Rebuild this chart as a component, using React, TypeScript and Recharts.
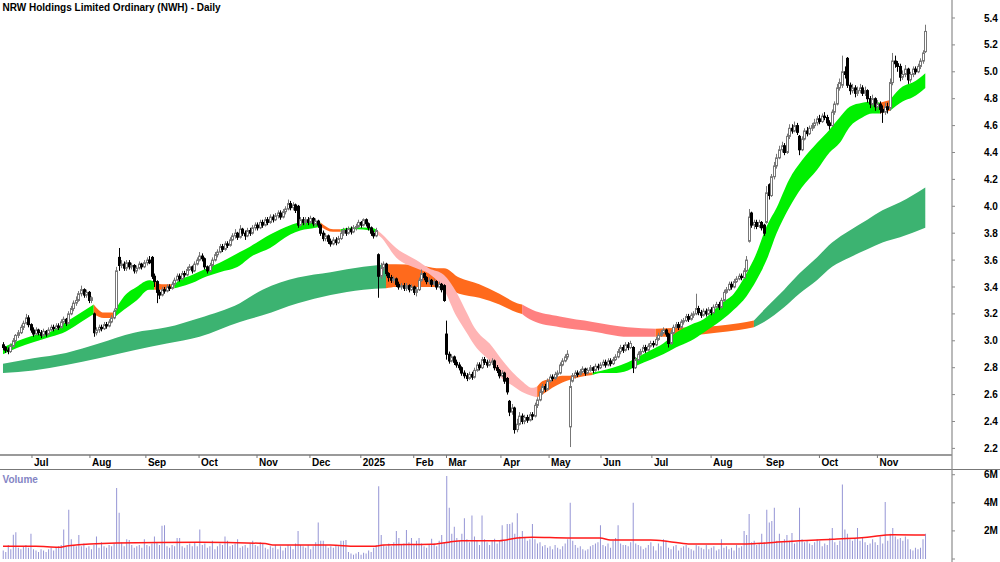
import { Area, Bar, ComposedChart, Line, XAxis, YAxis } from "recharts";

const FONT = '"Liberation Sans", Arial, Helvetica, sans-serif';

// daily candles, Jun 2024 .. Nov 2025
const opens = [
  2.97, 2.95, 2.93, 2.92, 2.96, 3.0, 3.04, 3.06, 3.1, 3.13,
  3.17, 3.12, 3.08, 3.05, 3.08, 3.06, 3.04, 3.07, 3.05, 3.08,
  3.1, 3.09, 3.11, 3.1, 3.14, 3.16, 3.13, 3.2, 3.24, 3.28,
  3.3, 3.35, 3.38, 3.34, 3.36, 3.3, 3.2, 3.06, 3.08, 3.1,
  3.09, 3.12, 3.11, 3.14, 3.17, 3.24, 3.62, 3.56, 3.57, 3.54,
  3.58, 3.55, 3.56, 3.52, 3.54, 3.57, 3.55, 3.58, 3.6, 3.62,
  3.48, 3.44, 3.36, 3.34, 3.38, 3.37, 3.4, 3.39, 3.42, 3.45,
  3.48, 3.46, 3.5, 3.49, 3.53, 3.55, 3.52, 3.57, 3.6, 3.63,
  3.61, 3.55, 3.52, 3.56, 3.6, 3.64, 3.66, 3.7, 3.68, 3.72,
  3.71, 3.75, 3.78, 3.8, 3.77, 3.83, 3.8, 3.78, 3.82, 3.8,
  3.84, 3.86, 3.84, 3.88, 3.86, 3.9, 3.88, 3.92, 3.9, 3.93,
  3.95, 3.92, 3.96, 3.98, 4.02, 3.99, 4.01, 4.0, 3.86, 3.9,
  3.88, 3.9, 3.88, 3.91, 3.87, 3.89, 3.86, 3.8, 3.76, 3.78,
  3.74, 3.72, 3.75, 3.73, 3.76, 3.8, 3.82, 3.8, 3.83, 3.81,
  3.84, 3.85, 3.88, 3.86, 3.9, 3.87, 3.84, 3.8, 3.78, 3.64,
  3.48, 3.54, 3.57, 3.5, 3.47, 3.45, 3.46, 3.42, 3.4, 3.41,
  3.39, 3.41, 3.38, 3.4, 3.36, 3.38, 3.45, 3.5, 3.47, 3.44,
  3.45, 3.42, 3.44, 3.4, 3.42, 3.41, 3.05, 2.9, 2.85, 2.88,
  2.84, 2.82, 2.8, 2.76, 2.74, 2.72, 2.75, 2.73, 2.78, 2.82,
  2.8, 2.86, 2.84, 2.82, 2.84, 2.85, 2.8, 2.78, 2.74, 2.76,
  2.72, 2.55, 2.47, 2.5, 2.34, 2.38, 2.44, 2.4, 2.43, 2.41,
  2.45, 2.44, 2.52, 2.56, 2.62, 2.66, 2.64, 2.7, 2.73, 2.72,
  2.75, 2.76, 2.82, 2.85, 2.88, 2.36, 2.7, 2.74, 2.76, 2.75,
  2.77, 2.79, 2.76, 2.78, 2.8, 2.78, 2.81, 2.8, 2.82, 2.84,
  2.82, 2.85, 2.83, 2.86, 2.88, 2.92, 2.95, 2.93, 2.97, 2.95,
  2.95, 2.8, 2.86, 2.9, 2.92, 2.95, 2.93, 2.96, 2.98, 2.97,
  3.01, 3.04, 3.06, 3.08, 3.05, 2.98, 3.06, 3.1, 3.12, 3.1,
  3.14, 3.15, 3.18, 3.16, 3.19, 3.2, 3.24, 3.21, 3.19, 3.22,
  3.2, 3.23, 3.21, 3.25, 3.27, 3.25, 3.3, 3.36, 3.38, 3.42,
  3.4, 3.44, 3.46, 3.48, 3.47, 3.52, 3.74, 3.95, 3.86, 3.88,
  3.85, 3.88, 3.86, 3.88, 4.16, 4.08, 4.22, 4.3, 4.36, 4.42,
  4.45, 4.4, 4.52, 4.58, 4.56, 4.6, 4.52, 4.42, 4.5, 4.56,
  4.54, 4.58, 4.6, 4.62, 4.65, 4.63, 4.67, 4.66, 4.62, 4.6,
  4.7, 4.76, 4.88, 4.9, 5.0, 5.1, 4.9, 4.86, 4.88, 4.84,
  4.86, 4.88, 4.84, 4.86, 4.8, 4.76, 4.8, 4.74, 4.76, 4.72,
  4.7, 4.74, 4.73, 4.92, 5.08, 5.06, 5.04, 4.96, 4.98, 5.02,
  4.94, 4.98, 5.02, 5.0, 5.04, 5.08, 5.15,
];

const highs = [
  2.99, 2.96, 2.95, 2.98, 3.02, 3.05, 3.08, 3.12, 3.15, 3.2,
  3.19, 3.13, 3.1, 3.1, 3.09, 3.08, 3.09, 3.08, 3.1, 3.12,
  3.12, 3.13, 3.13, 3.16, 3.18, 3.17, 3.22, 3.26, 3.3, 3.33,
  3.37, 3.41, 3.39, 3.38, 3.37, 3.33, 3.21, 3.1, 3.12, 3.12,
  3.14, 3.14, 3.16, 3.19, 3.24, 3.55, 3.69, 3.6, 3.59, 3.6,
  3.6, 3.58, 3.57, 3.56, 3.59, 3.58, 3.6, 3.62, 3.63, 3.63,
  3.5, 3.45, 3.38, 3.4, 3.4, 3.42, 3.42, 3.44, 3.47, 3.5,
  3.5, 3.52, 3.52, 3.55, 3.57, 3.56, 3.59, 3.62, 3.66, 3.65,
  3.62, 3.56, 3.58, 3.62, 3.66, 3.68, 3.72, 3.72, 3.74, 3.74,
  3.77, 3.8, 3.83, 3.81, 3.86, 3.84, 3.82, 3.84, 3.84, 3.86,
  3.88, 3.88, 3.9, 3.9, 3.92, 3.92, 3.94, 3.94, 3.95, 3.97,
  3.97, 3.98, 4.0, 4.05, 4.04, 4.03, 4.02, 4.01, 3.92, 3.92,
  3.92, 3.92, 3.93, 3.92, 3.91, 3.9, 3.87, 3.82, 3.8, 3.79,
  3.76, 3.77, 3.77, 3.78, 3.82, 3.84, 3.84, 3.85, 3.85, 3.86,
  3.87, 3.9, 3.89, 3.91, 3.91, 3.88, 3.85, 3.82, 3.84, 3.65,
  3.58, 3.59, 3.58, 3.51, 3.49, 3.48, 3.47, 3.44, 3.43, 3.43,
  3.43, 3.42, 3.42, 3.41, 3.4, 3.47, 3.53, 3.51, 3.48, 3.47,
  3.46, 3.46, 3.45, 3.44, 3.43, 3.42, 3.15, 2.92, 2.9, 2.89,
  2.86, 2.84, 2.81, 2.78, 2.76, 2.77, 2.77, 2.8, 2.84, 2.84,
  2.88, 2.88, 2.86, 2.86, 2.87, 2.86, 2.82, 2.79, 2.78, 2.77,
  2.73, 2.56, 2.53, 2.51, 2.42, 2.47, 2.46, 2.45, 2.45, 2.47,
  2.47, 2.54, 2.58, 2.64, 2.68, 2.68, 2.72, 2.75, 2.75, 2.77,
  2.78, 2.84, 2.87, 2.9, 2.93, 2.72, 2.76, 2.78, 2.78, 2.79,
  2.81, 2.8, 2.8, 2.82, 2.81, 2.83, 2.83, 2.84, 2.86, 2.86,
  2.87, 2.87, 2.88, 2.9, 2.94, 2.97, 2.97, 2.99, 2.99, 3.0,
  2.96, 2.88, 2.92, 2.94, 2.97, 2.97, 2.98, 3.0, 3.0, 3.03,
  3.06, 3.08, 3.1, 3.09, 3.06, 3.08, 3.12, 3.14, 3.14, 3.16,
  3.17, 3.2, 3.2, 3.21, 3.22, 3.35, 3.26, 3.23, 3.24, 3.24,
  3.25, 3.25, 3.27, 3.29, 3.29, 3.32, 3.38, 3.4, 3.44, 3.44,
  3.46, 3.48, 3.5, 3.5, 3.54, 3.63, 3.98, 3.96, 3.9, 3.9,
  3.9, 3.89, 3.87, 4.15, 4.17, 4.24, 4.33, 4.39, 4.45, 4.48,
  4.47, 4.54, 4.61, 4.61, 4.63, 4.62, 4.53, 4.52, 4.58, 4.59,
  4.6, 4.62, 4.65, 4.67, 4.68, 4.69, 4.7, 4.68, 4.64, 4.72,
  4.78, 4.91, 4.95, 5.12, 5.04, 5.11, 4.92, 4.91, 4.9, 4.89,
  4.91, 4.9, 4.89, 4.87, 4.82, 4.83, 4.81, 4.79, 4.78, 4.75,
  4.77, 4.77, 4.95, 5.14, 5.12, 5.08, 5.06, 5.01, 5.05, 5.03,
  5.0, 5.04, 5.04, 5.06, 5.1, 5.16, 5.35,
];

const lows = [
  2.93, 2.91, 2.9, 2.91, 2.95, 2.98, 3.02, 3.05, 3.08, 3.12,
  3.1, 3.06, 3.03, 3.04, 3.04, 3.02, 3.03, 3.03, 3.04, 3.07,
  3.07, 3.08, 3.08, 3.09, 3.12, 3.11, 3.12, 3.19, 3.22, 3.26,
  3.29, 3.33, 3.32, 3.32, 3.28, 3.28, 3.03, 3.04, 3.06, 3.07,
  3.08, 3.09, 3.1, 3.13, 3.16, 3.22, 3.52, 3.54, 3.52, 3.52,
  3.53, 3.53, 3.5, 3.5, 3.53, 3.53, 3.54, 3.56, 3.57, 3.46,
  3.4, 3.28, 3.31, 3.33, 3.35, 3.36, 3.37, 3.38, 3.41, 3.44,
  3.44, 3.45, 3.47, 3.48, 3.52, 3.5, 3.51, 3.56, 3.59, 3.59,
  3.53, 3.5, 3.51, 3.55, 3.59, 3.62, 3.65, 3.66, 3.67, 3.69,
  3.7, 3.74, 3.76, 3.75, 3.76, 3.78, 3.75, 3.77, 3.78, 3.79,
  3.82, 3.82, 3.83, 3.84, 3.85, 3.86, 3.87, 3.88, 3.89, 3.91,
  3.9, 3.91, 3.94, 3.97, 3.97, 3.97, 3.95, 3.84, 3.85, 3.86,
  3.86, 3.86, 3.87, 3.85, 3.85, 3.84, 3.78, 3.74, 3.74, 3.72,
  3.7, 3.71, 3.71, 3.72, 3.75, 3.78, 3.78, 3.79, 3.79, 3.8,
  3.82, 3.84, 3.84, 3.85, 3.85, 3.82, 3.78, 3.76, 3.77, 3.32,
  3.46, 3.52, 3.48, 3.44, 3.43, 3.43, 3.4, 3.38, 3.38, 3.37,
  3.37, 3.36, 3.37, 3.34, 3.33, 3.37, 3.44, 3.45, 3.42, 3.42,
  3.4, 3.41, 3.38, 3.39, 3.36, 3.29, 2.86, 2.83, 2.84, 2.82,
  2.8, 2.78, 2.74, 2.72, 2.7, 2.71, 2.71, 2.72, 2.77, 2.78,
  2.79, 2.82, 2.8, 2.81, 2.82, 2.78, 2.76, 2.72, 2.73, 2.68,
  2.6, 2.44, 2.45, 2.31, 2.32, 2.37, 2.38, 2.38, 2.39, 2.4,
  2.41, 2.43, 2.5, 2.55, 2.6, 2.62, 2.63, 2.69, 2.7, 2.71,
  2.73, 2.75, 2.81, 2.84, 2.86, 2.21, 2.69, 2.72, 2.73, 2.74,
  2.76, 2.74, 2.75, 2.77, 2.76, 2.77, 2.78, 2.79, 2.81, 2.8,
  2.81, 2.81, 2.82, 2.85, 2.87, 2.9, 2.91, 2.92, 2.93, 2.94,
  2.76, 2.79, 2.85, 2.89, 2.91, 2.91, 2.92, 2.95, 2.95, 2.96,
  3.0, 3.03, 3.05, 3.03, 2.95, 2.97, 3.05, 3.09, 3.08, 3.09,
  3.12, 3.14, 3.14, 3.15, 3.17, 3.19, 3.19, 3.17, 3.18, 3.18,
  3.19, 3.19, 3.2, 3.24, 3.23, 3.24, 3.29, 3.35, 3.37, 3.38,
  3.39, 3.43, 3.45, 3.45, 3.46, 3.51, 3.73, 3.84, 3.83, 3.83,
  3.84, 3.82, 3.78, 3.87, 4.05, 4.07, 4.2, 4.28, 4.35, 4.4,
  4.38, 4.39, 4.5, 4.54, 4.55, 4.53, 4.38, 4.41, 4.49, 4.52,
  4.53, 4.56, 4.58, 4.6, 4.61, 4.62, 4.64, 4.6, 4.57, 4.59,
  4.68, 4.75, 4.86, 4.88, 4.95, 4.88, 4.83, 4.84, 4.81, 4.82,
  4.84, 4.82, 4.82, 4.77, 4.73, 4.74, 4.71, 4.72, 4.69, 4.62,
  4.68, 4.69, 4.71, 4.9, 5.03, 5.0, 4.93, 4.94, 4.96, 4.91,
  4.92, 4.96, 4.98, 4.99, 5.02, 5.06, 5.14,
];

const closes = [
  2.95, 2.93, 2.92, 2.96, 3.0, 3.04, 3.06, 3.1, 3.13, 3.17,
  3.12, 3.08, 3.05, 3.08, 3.06, 3.04, 3.07, 3.05, 3.08, 3.1,
  3.09, 3.11, 3.1, 3.14, 3.16, 3.13, 3.2, 3.24, 3.28, 3.3,
  3.35, 3.38, 3.34, 3.36, 3.3, 3.32, 3.06, 3.08, 3.1, 3.09,
  3.12, 3.11, 3.14, 3.17, 3.22, 3.52, 3.56, 3.57, 3.54, 3.58,
  3.55, 3.56, 3.52, 3.54, 3.57, 3.55, 3.58, 3.6, 3.58, 3.48,
  3.44, 3.36, 3.34, 3.38, 3.37, 3.4, 3.39, 3.42, 3.45, 3.48,
  3.46, 3.5, 3.49, 3.53, 3.55, 3.52, 3.57, 3.6, 3.63, 3.61,
  3.55, 3.52, 3.56, 3.6, 3.64, 3.66, 3.7, 3.68, 3.72, 3.71,
  3.75, 3.78, 3.8, 3.77, 3.83, 3.8, 3.78, 3.82, 3.8, 3.84,
  3.86, 3.84, 3.88, 3.86, 3.9, 3.88, 3.92, 3.9, 3.93, 3.95,
  3.92, 3.96, 3.98, 4.02, 3.99, 4.01, 3.97, 3.86, 3.9, 3.88,
  3.9, 3.88, 3.91, 3.87, 3.89, 3.86, 3.8, 3.76, 3.78, 3.74,
  3.72, 3.75, 3.73, 3.76, 3.8, 3.82, 3.8, 3.83, 3.81, 3.84,
  3.85, 3.88, 3.86, 3.9, 3.87, 3.84, 3.8, 3.78, 3.82, 3.48,
  3.54, 3.57, 3.5, 3.47, 3.45, 3.46, 3.42, 3.4, 3.41, 3.39,
  3.41, 3.38, 3.4, 3.36, 3.38, 3.45, 3.5, 3.47, 3.44, 3.45,
  3.42, 3.44, 3.4, 3.42, 3.38, 3.3, 2.9, 2.85, 2.88, 2.84,
  2.82, 2.8, 2.76, 2.74, 2.72, 2.75, 2.73, 2.78, 2.82, 2.8,
  2.86, 2.84, 2.82, 2.84, 2.85, 2.8, 2.78, 2.74, 2.76, 2.7,
  2.62, 2.47, 2.5, 2.34, 2.38, 2.44, 2.4, 2.43, 2.41, 2.45,
  2.44, 2.52, 2.56, 2.62, 2.66, 2.64, 2.7, 2.73, 2.72, 2.75,
  2.76, 2.82, 2.85, 2.88, 2.9, 2.66, 2.74, 2.76, 2.75, 2.77,
  2.79, 2.76, 2.78, 2.8, 2.78, 2.81, 2.8, 2.82, 2.84, 2.82,
  2.85, 2.83, 2.86, 2.88, 2.92, 2.95, 2.93, 2.97, 2.95, 2.98,
  2.8, 2.86, 2.9, 2.92, 2.95, 2.93, 2.96, 2.98, 2.97, 3.01,
  3.04, 3.06, 3.08, 3.05, 2.98, 3.06, 3.1, 3.12, 3.1, 3.14,
  3.15, 3.18, 3.16, 3.19, 3.2, 3.24, 3.21, 3.19, 3.22, 3.2,
  3.23, 3.21, 3.25, 3.27, 3.25, 3.3, 3.36, 3.38, 3.42, 3.4,
  3.44, 3.46, 3.48, 3.47, 3.52, 3.6, 3.92, 3.86, 3.88, 3.85,
  3.88, 3.84, 3.8, 4.1, 4.08, 4.22, 4.3, 4.36, 4.42, 4.45,
  4.4, 4.52, 4.58, 4.56, 4.6, 4.55, 4.42, 4.5, 4.56, 4.54,
  4.58, 4.6, 4.62, 4.65, 4.63, 4.67, 4.66, 4.62, 4.6, 4.7,
  4.76, 4.88, 4.92, 5.0, 4.98, 4.9, 4.86, 4.88, 4.84, 4.86,
  4.88, 4.84, 4.86, 4.8, 4.76, 4.8, 4.74, 4.76, 4.72, 4.7,
  4.74, 4.72, 4.92, 5.08, 5.06, 5.04, 4.96, 4.98, 5.02, 4.94,
  4.98, 5.02, 5.0, 5.04, 5.08, 5.14, 5.3,
];

// volume in millions
const volumes = [
  0.6, 0.5, 1.0, 0.7, 1.73, 1.9, 0.8, 0.7, 0.9, 1.0,
  0.8, 1.8, 0.7, 0.6, 0.5, 0.7, 0.6, 0.5, 0.7, 0.8,
  0.6, 0.8, 0.9, 1.0, 2.1, 0.9, 3.5, 1.4, 1.0, 0.9,
  1.7, 0.9, 1.1, 0.8, 0.9, 0.7, 1.0, 1.6, 0.8, 1.2,
  0.9, 0.8, 1.0, 0.9, 1.1, 5.05, 3.3, 1.2, 0.9, 1.4,
  1.35, 1.0, 0.8, 0.9, 1.0, 0.8, 1.4, 1.0, 0.9, 1.1,
  1.6, 1.2, 1.0, 2.37, 2.4, 0.9, 0.8, 1.0, 0.9, 1.5,
  1.5, 0.9, 0.8, 1.0, 1.1, 0.9, 1.2, 0.9, 2.1, 1.0,
  1.1, 0.8, 0.9, 1.3, 0.7, 0.9, 1.1, 1.0, 1.6, 1.3,
  0.9, 1.0, 1.1, 1.4, 0.8, 0.9, 1.0, 0.8, 1.1, 1.3,
  1.0, 0.9, 1.2, 1.1, 0.8, 0.7, 0.9, 0.8, 1.0, 0.7,
  0.9, 0.6, 0.8, 1.0, 0.9, 0.7, 1.1, 2.0, 1.0, 0.9,
  0.8, 1.0, 0.7, 0.9, 1.2, 2.6, 1.3, 1.3, 1.0, 0.8,
  0.9, 0.8, 1.0, 0.9, 1.3, 1.3, 1.35, 0.5, 0.4, 0.3,
  0.4, 0.5, 0.3, 0.45, 0.4, 0.6, 0.5, 0.8, 1.0, 5.17,
  1.7, 1.0, 0.9, 1.1, 0.9, 1.2, 2.0, 1.5, 1.0, 1.1,
  2.06, 1.2, 1.5, 1.0, 1.3, 1.5, 1.1, 0.9, 0.8, 1.0,
  1.45, 1.1, 0.9, 1.3, 1.7, 1.2, 5.9, 3.65, 1.8, 2.3,
  1.5, 1.3, 1.8, 2.9, 1.4, 1.2, 3.1, 1.6, 1.3, 1.0,
  3.1, 1.4, 1.2, 1.0, 1.3, 1.45, 1.1, 1.3, 2.4, 1.3,
  2.5, 2.5, 2.6, 1.8, 3.25, 1.6, 2.0, 1.5, 1.3, 1.4,
  2.5, 1.4, 1.1, 1.2, 0.9, 1.0, 0.8, 0.9, 0.7, 1.0,
  0.8, 0.7, 0.9, 1.1, 1.4, 4.0, 1.3, 1.0, 0.8, 0.9,
  0.7, 0.6, 0.7, 0.9, 1.0, 1.1, 1.2, 2.4, 1.0, 0.9,
  1.1, 0.8, 1.3, 1.5, 2.4, 1.1, 1.0, 1.0, 0.9, 1.2,
  4.0, 1.1, 1.0, 0.9, 0.7, 0.8, 1.0, 1.2, 0.9, 0.6,
  1.1, 0.9, 1.4, 1.3, 0.8, 0.7, 0.9, 1.0, 0.6, 0.8,
  0.9, 1.0, 0.8, 0.7, 0.6, 1.0, 0.9, 0.8, 0.7, 1.0,
  0.7, 0.8, 0.9, 0.6, 0.7, 1.4, 0.8, 0.9, 0.7, 0.8,
  0.6, 1.0, 0.8, 0.9, 2.0, 1.7, 3.2, 1.2, 1.3, 1.0,
  1.1, 1.8, 1.2, 3.5, 2.6, 2.7, 3.65, 1.3, 1.8, 1.2,
  1.4, 1.7, 1.3, 1.85, 1.1, 1.2, 3.65, 1.4, 1.2, 1.3,
  1.1, 1.0, 1.2, 1.4, 1.3, 0.9, 1.1, 1.0, 1.5, 2.2,
  1.2, 1.0, 1.3, 5.3, 2.1, 1.8, 1.4, 1.3, 1.5, 2.2,
  1.3, 1.5, 1.2, 1.0, 1.1, 1.4, 1.2, 1.0, 1.6, 1.1,
  4.05, 1.3, 1.8, 2.2, 1.6, 1.4, 1.5, 1.3, 1.6, 1.4,
  0.7, 0.6, 0.8, 0.7, 0.8, 1.4, 1.8,
];

// volume moving average: [bar, millions]
const volumeAverage: [number, number][] = [
  [0, 0.9], [13, 0.9], [22, 0.83], [26, 0.95], [45, 1.14], [78, 1.2], [104, 1.1],
  [107, 1.0], [130, 1.0], [140, 0.9], [147, 0.9], [151, 1.0], [170, 1.05], [177, 1.2],
  [182, 1.3], [197, 1.3], [204, 1.5], [210, 1.55], [224, 1.5], [237, 1.5], [241, 1.35],
  [257, 1.35], [264, 1.25], [272, 1.07], [295, 1.07], [303, 1.14], [316, 1.3],
  [329, 1.4], [343, 1.55], [353, 1.73], [366, 1.7],
];

// short-term ribbon edges: [bar, low, high]
const shortRibbon: [number, number, number][] = [
  [0, 2.9, 2.95], [6, 2.95, 3.0], [12, 2.99, 3.04], [19, 3.03, 3.07], [25, 3.07, 3.14],
  [31, 3.14, 3.21], [36, 3.2, 3.27], [40, 3.17, 3.21], [44, 3.17, 3.21], [48, 3.23, 3.33],
  [53, 3.3, 3.4], [58, 3.38, 3.45], [60, 3.38, 3.44], [63, 3.38, 3.42], [68, 3.39, 3.42],
  [70, 3.4, 3.45], [75, 3.43, 3.49], [81, 3.48, 3.54], [86, 3.51, 3.58], [94, 3.56, 3.66],
  [98, 3.62, 3.7], [106, 3.69, 3.79], [114, 3.79, 3.86], [118, 3.82, 3.88], [124, 3.84, 3.88],
  [126, 3.85, 3.88], [131, 3.81, 3.83], [134, 3.81, 3.83], [140, 3.83, 3.845], [146, 3.82, 3.84],
  [148, 3.8, 3.83], [150, 3.77, 3.8], [156, 3.62, 3.69], [164, 3.54, 3.6], [169, 3.5, 3.54],
  [175, 3.38, 3.49], [180, 3.18, 3.36], [184, 3.06, 3.21], [187, 2.97, 3.1], [194, 2.83, 2.96],
  [198, 2.72, 2.86], [202, 2.67, 2.77], [206, 2.62, 2.7], [210, 2.59, 2.65], [212, 2.58, 2.66],
  [214, 2.6, 2.7], [218, 2.65, 2.72], [222, 2.69, 2.74], [225, 2.71, 2.74], [229, 2.73, 2.76],
  [234, 2.745, 2.765], [237, 2.76, 2.775], [242, 2.76, 2.8], [248, 2.78, 2.84], [252, 2.82, 2.88],
  [257, 2.86, 2.93], [262, 2.9, 2.98], [267, 2.95, 3.06], [273, 3.0, 3.12], [278, 3.06, 3.16],
  [285, 3.15, 3.28], [290, 3.23, 3.35], [295, 3.33, 3.5], [299, 3.45, 3.65], [303, 3.6, 3.85],
  [307, 3.8, 3.99], [312, 3.99, 4.2], [317, 4.14, 4.34], [323, 4.27, 4.47], [328, 4.4, 4.57],
  [332, 4.47, 4.66], [336, 4.59, 4.74], [341, 4.66, 4.77], [345, 4.69, 4.78], [348, 4.69, 4.77],
  [352, 4.71, 4.79], [357, 4.78, 4.89], [361, 4.81, 4.92], [366, 4.88, 4.99],
];

// long-term ribbon edges: [bar, low, high]
const longRibbon: [number, number, number][] = [
  [0, 2.76, 2.83], [12, 2.78, 2.87], [25, 2.82, 2.91], [38, 2.87, 2.98], [52, 2.93, 3.06],
  [65, 2.98, 3.1], [78, 3.03, 3.17], [94, 3.14, 3.28], [103, 3.19, 3.38], [117, 3.28, 3.47],
  [130, 3.34, 3.51], [143, 3.38, 3.55], [152, 3.39, 3.57], [156, 3.4, 3.57], [166, 3.4, 3.56],
  [172, 3.4, 3.54], [175, 3.4, 3.54], [181, 3.35, 3.47], [189, 3.32, 3.42], [197, 3.27, 3.35],
  [204, 3.21, 3.28], [206, 3.2, 3.27], [210, 3.15, 3.23], [221, 3.1, 3.18], [234, 3.07, 3.14],
  [248, 3.03, 3.1], [259, 3.03, 3.09], [273, 3.04, 3.1], [283, 3.06, 3.11], [292, 3.08, 3.13],
  [298, 3.1, 3.15], [302, 3.14, 3.23], [310, 3.25, 3.38], [316, 3.35, 3.5], [323, 3.45, 3.62],
  [329, 3.55, 3.73], [336, 3.62, 3.82], [343, 3.68, 3.9], [349, 3.73, 3.97], [356, 3.77, 4.03],
  [366, 3.84, 4.14],
];

const LIME = "#00f000";
const ORANGE = "#ff6a1c";
const PINK = "#ffb4b4";
const SEA = "#3cb371";
const SALMON = "#ff8080";

const shortSegments: [number, number, string][] = [
  [0, 36, LIME], [36, 44, ORANGE], [44, 60, LIME], [60, 68, ORANGE], [68, 126, LIME],
  [126, 134, ORANGE], [134, 148, LIME], [148, 212, PINK], [212, 234, ORANGE],
  [234, 348, LIME], [348, 352, ORANGE], [352, 366, LIME],
];

const longSegments: [number, number, string][] = [
  [0, 152, SEA], [152, 206, ORANGE], [206, 259, SALMON], [259, 298, ORANGE], [298, 366, SEA],
];

const monthTicks = [11.5, 34.5, 56.7, 77.8, 100.8, 121.8, 142, 163, 176, 197.6, 216.7, 237.3, 257.5, 281, 302, 324, 347];
const monthLabels = ["Jul", "Aug", "Sep", "Oct", "Nov", "Dec", "2025", "Feb", "Mar", "Apr", "May", "Jun", "Jul", "Aug", "Sep", "Oct", "Nov"];
const priceTicks = [2.2, 2.4, 2.6, 2.8, 3.0, 3.2, 3.4, 3.6, 3.8, 4.0, 4.2, 4.4, 4.6, 4.8, 5.0, 5.2, 5.4];
const volumeTicks = [0, 2, 4, 6];

const X_DOMAIN = [-1.19, 376.6];

const rows: Record<string, any>[] = closes.map((c, i) => ({
  i,
  o: opens[i],
  h: highs[i],
  l: lows[i],
  c,
  v: volumes[i],
}));

function addRibbon(prefix: string, samples: [number, number, number][], segments: [number, number, string][]) {
  segments.forEach(([from, to], k) => {
    samples.forEach(([bar, lo, hi]) => {
      if (bar >= from && bar <= to && rows[bar]) rows[bar][`${prefix}${k}`] = [lo, hi];
    });
  });
}
addRibbon("lr", longRibbon, longSegments);
addRibbon("sr", shortRibbon, shortSegments);
volumeAverage.forEach(([bar, v]) => {
  if (rows[bar]) rows[bar].ma = v;
});

function Candle(props: any) {
  const { x, y, width, height, payload } = props;
  const { o, h, l, c } = payload;
  if (h === l || height == null) return null;
  const top = Math.min(y, y + height);
  const span = Math.abs(height);
  const k = span / (h - l);
  const cx = Math.round(x + width / 2) + 0.5;
  const yo = top + (h - o) * k;
  const yc = top + (h - c) * k;
  const up = c >= o;
  const col = up ? "#777" : "#000";
  const bTop = Math.min(yo, yc);
  const bH = Math.max(Math.abs(yc - yo), 1);
  return (
    <g>
      <line x1={cx} x2={cx} y1={top} y2={top + span} stroke={col} strokeWidth={1} />
      <rect x={cx - 1} y={bTop} width={2} height={bH} fill={up ? "#fff" : "#000"} stroke={col} strokeWidth={1} />
    </g>
  );
}

function MonthTick(props: any) {
  const { x, payload } = props;
  const idx = monthTicks.indexOf(payload.value);
  return (
    <text x={x + 2} y={466} fontSize={10} fontWeight="bold" fontFamily={FONT} fill="#000">
      {monthLabels[idx] ?? ""}
    </text>
  );
}

const tickStyle = { fill: "#000", fontSize: 10, fontWeight: "bold", fontFamily: FONT };

export default function App() {
  return (
    <div style={{ position: "absolute", left: 0, top: 0, width: 1000, height: 562, background: "#fff", overflow: "hidden" }}>
      <ComposedChart width={1000} height={470} data={rows} margin={{ top: 0, right: 0, bottom: 0, left: 0 }}>
        <XAxis
          dataKey="i"
          type="number"
          domain={X_DOMAIN}
          allowDataOverflow
          ticks={monthTicks}
          interval={0}
          height={15}
          tickSize={3}
          tickLine={{ stroke: "#777" }}
          axisLine={{ stroke: "#9a9a9a", strokeWidth: 2 }}
          tick={MonthTick}
        />
        <YAxis
          orientation="right"
          width={48}
          domain={[2.1509, 5.5338]}
          allowDataOverflow
          ticks={priceTicks}
          interval={0}
          tickFormatter={(v: number) => v.toFixed(1)}
          tickSize={3}
          tickMargin={29}
          tickLine={{ stroke: "#888" }}
          axisLine={false}
          tick={tickStyle}
        />
        {longSegments.map(([, , color], k) => (
          <Area
            key={`lr${k}`}
            dataKey={`lr${k}`}
            type="monotone"
            connectNulls
            stroke="none"
            fill={color}
            fillOpacity={1}
            dot={false}
            activeDot={false}
            isAnimationActive={false}
          />
        ))}
        {shortSegments.map(([, , color], k) => (
          <Area
            key={`sr${k}`}
            dataKey={`sr${k}`}
            type="monotone"
            connectNulls
            stroke="none"
            fill={color}
            fillOpacity={1}
            dot={false}
            activeDot={false}
            isAnimationActive={false}
          />
        ))}
        <Bar dataKey={(d: any) => [d.l, d.h]} barSize={3} shape={Candle} isAnimationActive={false} />
      </ComposedChart>

      <div style={{ position: "absolute", left: 0, top: 470 }}>
        <ComposedChart width={1000} height={92} data={rows} margin={{ top: 0, right: 0, bottom: 3, left: 0 }}>
          <XAxis dataKey="i" type="number" domain={X_DOMAIN} allowDataOverflow hide />
          <YAxis
            orientation="right"
            width={48}
            domain={[0, 6.335]}
            allowDataOverflow
            ticks={volumeTicks}
            interval={0}
            tickFormatter={(v: number) => (v === 0 ? "" : `${v}M`)}
            tickSize={3}
            tickMargin={29}
            tickLine={{ stroke: "#888" }}
            axisLine={false}
            tick={tickStyle}
          />
          <Bar dataKey="v" barSize={1} fill="#9595d5" isAnimationActive={false} />
          <Line
            dataKey="ma"
            type="monotone"
            connectNulls
            stroke="#ff1a1a"
            strokeWidth={1.5}
            dot={false}
            activeDot={false}
            isAnimationActive={false}
          />
        </ComposedChart>
      </div>

      <svg width={1000} height={562} style={{ position: "absolute", left: 0, top: 0, pointerEvents: "none" }}>
        <line x1={0} x2={1000} y1={469.5} y2={469.5} stroke="#777" strokeWidth={1} />
        <line x1={952} x2={952} y1={0} y2={562} stroke="#8c8c8c" strokeWidth={1.2} />
        <text x={2.5} y={11} fontSize={10} fontWeight="bold" fontFamily={FONT} fill="#000">
          NRW Holdings Limited Ordinary (NWH) - Daily
        </text>
        <text x={2.5} y={482.5} fontSize={10} fontWeight="bold" fontFamily={FONT} fill="#8484c4">
          Volume
        </text>
      </svg>
    </div>
  );
}
